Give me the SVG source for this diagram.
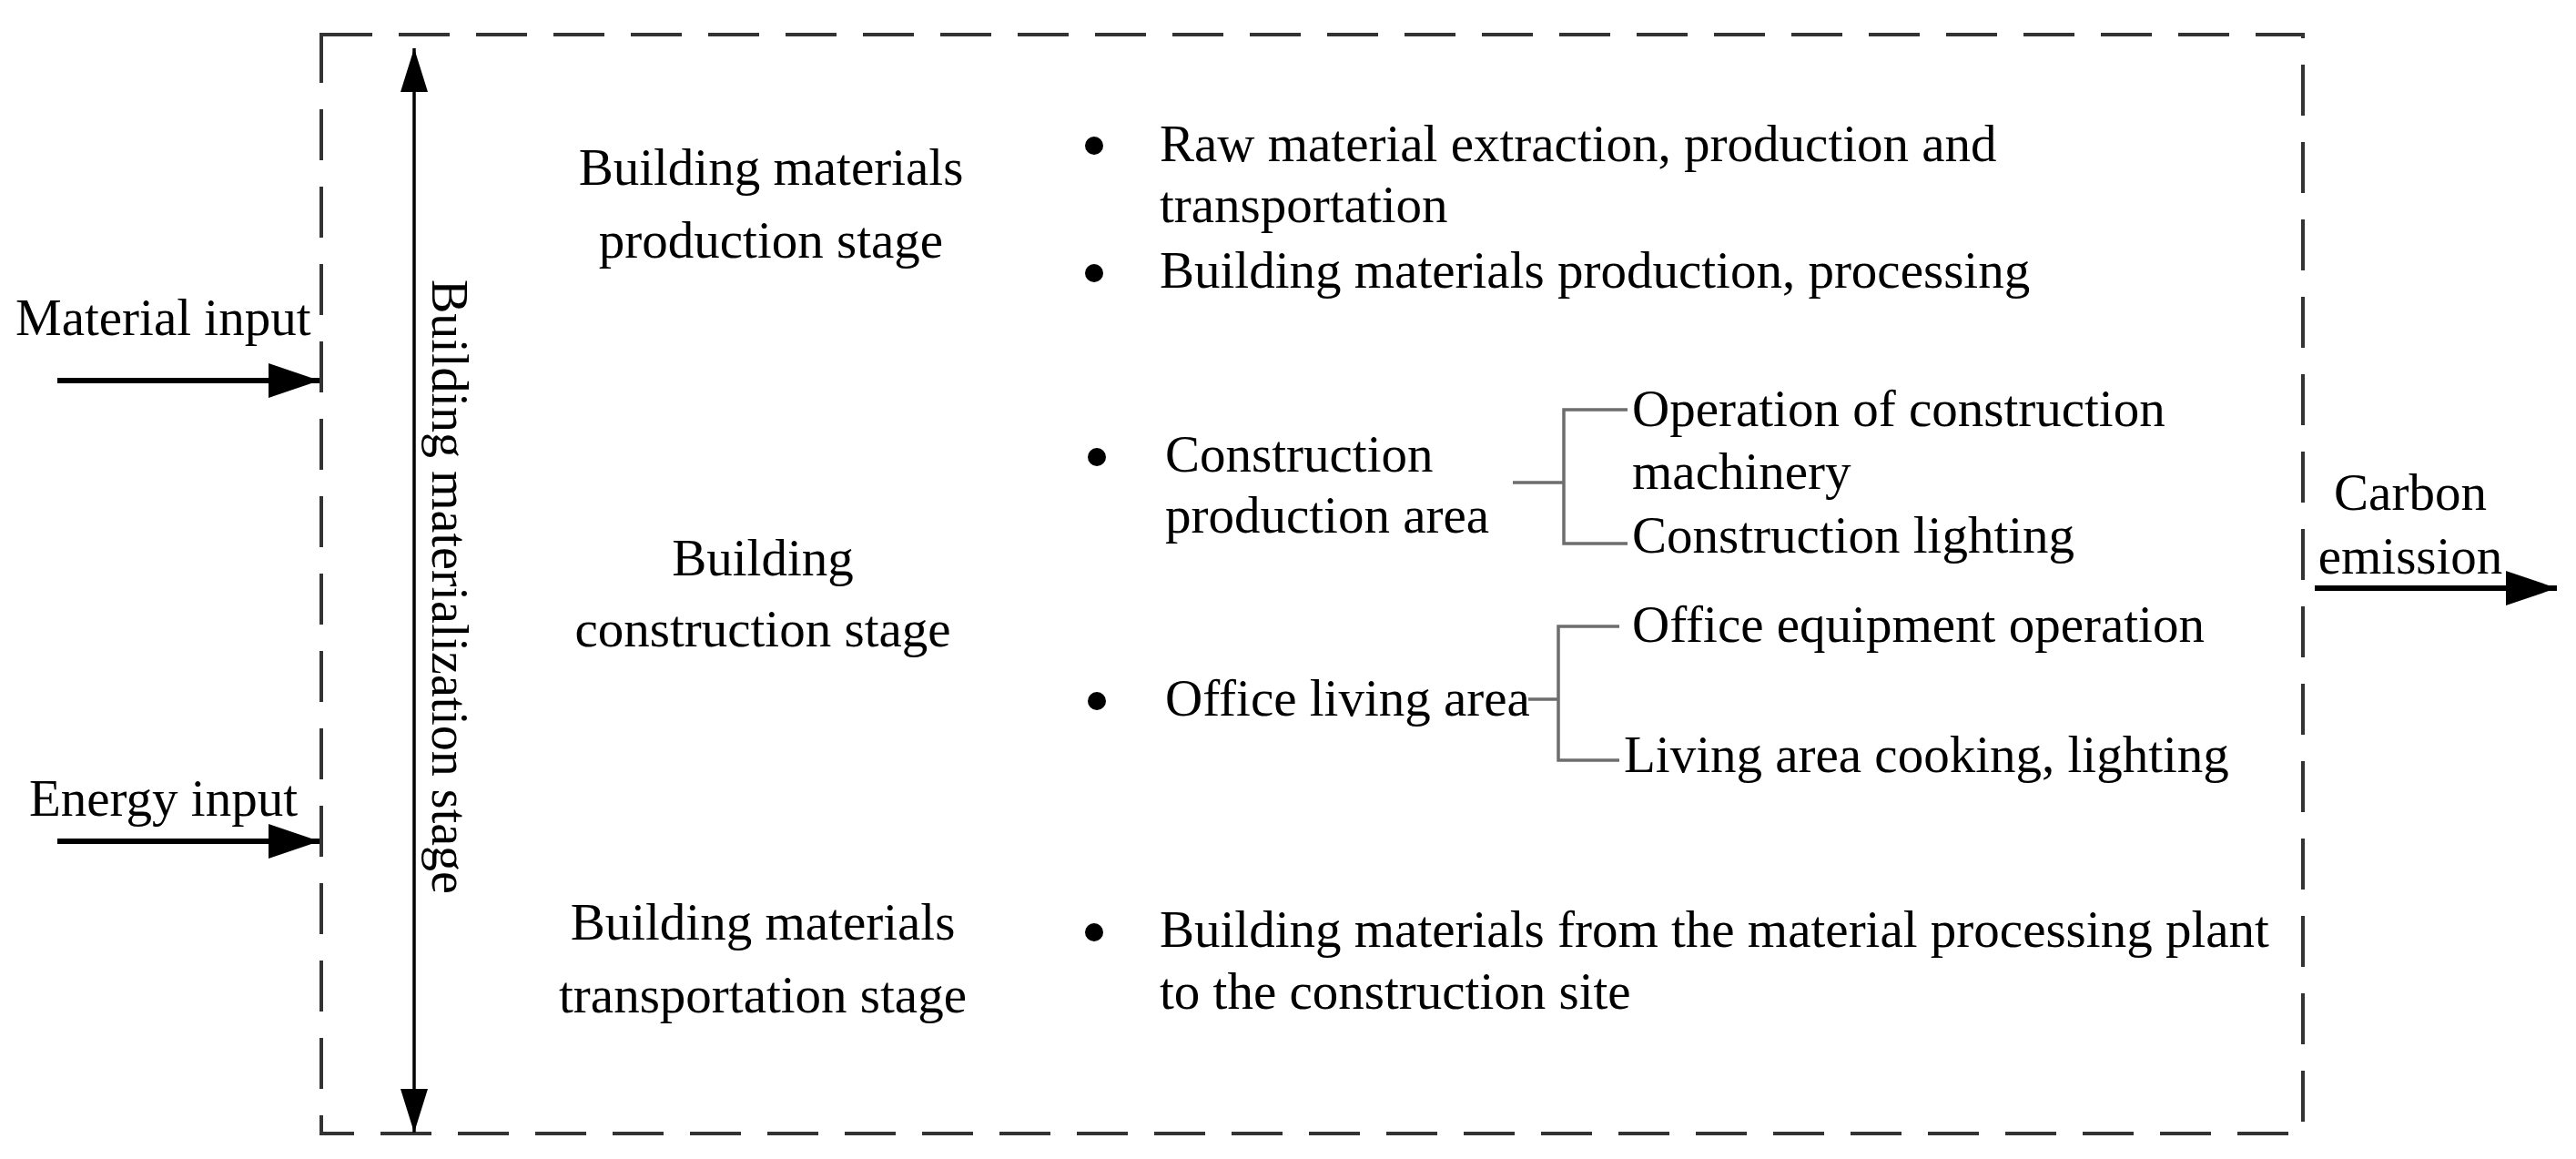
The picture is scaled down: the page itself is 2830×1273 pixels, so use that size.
<svg xmlns="http://www.w3.org/2000/svg" width="2830" height="1273" viewBox="0 0 2830 1273">
<style>
text{font-family:"Liberation Serif","Times New Roman",serif;font-size:57px;fill:#000}
.mid{text-anchor:middle}
.dash{fill:none;stroke:#333;stroke-width:4;stroke-dasharray:56 29}
.thick{stroke:#000;stroke-width:6;fill:none}
.thin{stroke:#000;stroke-width:3.5;fill:none}
.br{stroke:#6e6e6e;stroke-width:3.5;fill:none}
.dot{fill:#000}
</style>
<defs>
<marker id="ah" markerUnits="userSpaceOnUse" viewBox="0 0 56 38" refX="56" refY="19" markerWidth="56" markerHeight="38" orient="auto">
<path d="M0,0 L56,19 L0,38 Z" fill="#000"/>
</marker>
<marker id="vh" markerUnits="userSpaceOnUse" viewBox="0 0 48 30" refX="48" refY="15" markerWidth="48" markerHeight="30" orient="auto">
<path d="M0,0 L48,15 L0,30 Z" fill="#000"/>
</marker>
</defs>
<g id="boundary">
<rect class="dash" x="353" y="38" width="2177" height="1207"/>
</g>
<g id="connectors">
<line class="thick" x1="63" y1="418" x2="351" y2="418" marker-end="url(#ah)"/>
<line class="thick" x1="63" y1="924" x2="351" y2="924" marker-end="url(#ah)"/>
<line class="thick" x1="2543" y1="646" x2="2809" y2="646" marker-end="url(#ah)"/>
<line class="thin" x1="455" y1="640" x2="455" y2="53" marker-end="url(#vh)"/>
<line class="thin" x1="455" y1="640" x2="455" y2="1244" marker-end="url(#vh)"/>
<path class="br" d="M1662,530 H1718 M1788,450 H1718 V597 H1788"/>
<path class="br" d="M1679,768 H1712 M1779,688 H1712 V835 H1779"/>
</g>
<g id="material-input"><text x="17" y="368">Material input</text></g>
<g id="energy-input"><text x="32" y="896">Energy input</text></g>
<g id="carbon-emission">
<text class="mid" x="2648" y="560">Carbon</text>
<text class="mid" x="2648" y="630">emission</text>
</g>
<g id="materialization-stage">
<text transform="translate(475,307) rotate(90)" style="font-size:56px">Building materialization stage</text>
</g>
<g id="stage-production">
<text class="mid" x="847" y="203">Building materials</text>
<text class="mid" x="847" y="283">production stage</text>
</g>
<g id="stage-construction">
<text class="mid" x="838" y="632">Building</text>
<text class="mid" x="838" y="710">construction stage</text>
</g>
<g id="stage-transportation">
<text class="mid" x="838" y="1032">Building materials</text>
<text class="mid" x="838" y="1112">transportation stage</text>
</g>
<g id="production-items">
<circle class="dot" cx="1202" cy="160" r="10"/>
<text x="1274" y="177">Raw material extraction, production and</text>
<text x="1274" y="244">transportation</text>
<circle class="dot" cx="1202" cy="300" r="10"/>
<text x="1274" y="316">Building materials production, processing</text>
</g>
<g id="construction-production-area">
<circle class="dot" cx="1205" cy="502" r="10"/>
<text x="1280" y="518">Construction</text>
<text x="1280" y="585">production area</text>
</g>
<g id="operation-machinery">
<text x="1793" y="468">Operation of construction</text>
<text x="1793" y="537">machinery</text>
</g>
<g id="construction-lighting"><text x="1793" y="607">Construction lighting</text></g>
<g id="office-living-area">
<circle class="dot" cx="1205" cy="770" r="10"/>
<text x="1280" y="786">Office living area</text>
</g>
<g id="office-equipment"><text x="1793" y="705">Office equipment operation</text></g>
<g id="living-cooking"><text x="1784" y="848">Living area cooking, lighting</text></g>
<g id="transportation-items">
<circle class="dot" cx="1202" cy="1024" r="10"/>
<text x="1274" y="1040">Building materials from the material processing plant</text>
<text x="1274" y="1108">to the construction site</text>
</g>
</svg>
